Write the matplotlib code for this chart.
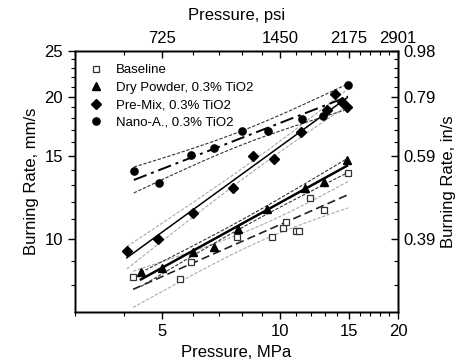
import numpy as np
import matplotlib
matplotlib.use("Agg")
import matplotlib.pyplot as plt
from matplotlib.ticker import FixedLocator, NullFormatter

plt.rcParams['font.family'] = ['Liberation Sans', 'DejaVu Sans']

# pressure in MPa, burning rate in mm/s
base_p = [4.22, 5.56, 5.93, 7.77, 9.54, 10.18, 10.36, 11.0, 11.15, 11.93, 12.95, 14.9]
base_r = [8.31, 8.23, 8.94, 10.1, 10.1, 10.55, 10.86, 10.4, 10.4, 12.2, 11.52, 13.8]

dry_p = [4.42, 5.0, 6.0, 6.78, 7.81, 9.27, 11.58, 12.95, 14.8]
dry_r = [8.51, 8.68, 9.39, 9.62, 10.5, 11.58, 12.83, 13.2, 14.7]

pre_p = [4.07, 4.89, 6.0, 7.59, 8.53, 9.65, 11.3, 13.2, 13.8, 14.4, 14.8]
pre_r = [9.43, 10.0, 11.35, 12.83, 15.0, 14.77, 16.86, 18.7, 20.3, 19.5, 19.05]

nano_p = [4.24, 4.91, 5.93, 6.78, 8.0, 9.32, 11.38, 12.87, 14.9]
nano_r = [13.9, 13.15, 15.05, 15.6, 16.9, 16.9, 17.9, 18.2, 21.2]

x_major = [5, 10, 15, 20]
psi_labels = ['725', '1450', '2175', '2901']
y_major = [10, 15, 20, 25]
ins_labels = ['0.39', '0.59', '0.79', '0.98']
x_minor = [3, 4, 6, 7, 8, 9, 11, 12, 13, 14, 16, 17, 18, 19]
y_minor = [8, 9, 11, 12, 13, 14, 16, 17, 18, 19, 21, 22, 23, 24]

t95 = {7: 2.365, 9: 2.262, 10: 2.228, 11: 2.201}


def power_fit(p, r):
    lx = np.log10(p)
    ly = np.log10(r)
    n = len(lx)
    b, a = np.polyfit(lx, ly, 1)
    resid = ly - (a + b * lx)
    s = np.sqrt(np.sum(resid ** 2) / (n - 2))
    sxx = np.sum((lx - lx.mean()) ** 2)
    xs = np.linspace(lx.min(), lx.max(), 60)
    fit = a + b * xs
    half = t95[n - 2] * s * np.sqrt(1.0 / n + (xs - lx.mean()) ** 2 / sxx)
    return 10 ** xs, 10 ** fit, 10 ** (fit - half), 10 ** (fit + half)


fig = plt.figure(figsize=(4.74, 3.63), dpi=100)
ax = fig.add_axes([0.158, 0.140, 0.682, 0.720])

series = [
    (base_p, base_r, dict(marker='s', mfc='white', mec='#333333', ms=4.5, mew=0.9),
     'Baseline', dict(color='#222222', ls=(0, (5, 2.5)), lw=1.2), '#aaaaaa'),
    (dry_p, dry_r, dict(marker='^', color='black', ms=5.5),
     'Dry Powder, 0.3% TiO2', dict(color='black', ls='-', lw=1.8), '#333333'),
    (pre_p, pre_r, dict(marker='D', color='black', ms=4.7),
     'Pre-Mix, 0.3% TiO2', dict(color='black', ls='-', lw=1.1), '#aaaaaa'),
    (nano_p, nano_r, dict(marker='o', color='black', ms=5.2),
     'Nano-A., 0.3% TiO2', dict(color='black', ls=(0, (7, 2.5, 1.5, 2.5)), lw=1.4), '#333333'),
]

for p, r, mk, lab, lstyle, bandc in series:
    xs, fit, lo, hi = power_fit(p, r)
    ax.plot(xs, lo, color=bandc, ls=(0, (3, 1.5)), lw=0.8)
    ax.plot(xs, hi, color=bandc, ls=(0, (3, 1.5)), lw=0.8)
    ax.plot(xs, fit, **lstyle)
    ax.plot(p, r, ls='none', label=lab, **mk)

ax.set_xscale('log')
ax.set_yscale('log')
ax.set_xlim(3, 20)
ax.set_ylim(7, 25)

ax.xaxis.set_major_locator(FixedLocator(x_major))
ax.xaxis.set_minor_locator(FixedLocator(x_minor))
ax.set_xticklabels([str(v) for v in x_major])
ax.xaxis.set_minor_formatter(NullFormatter())
ax.yaxis.set_major_locator(FixedLocator(y_major))
ax.yaxis.set_minor_locator(FixedLocator(y_minor))
ax.set_yticklabels([str(v) for v in y_major])
ax.yaxis.set_minor_formatter(NullFormatter())
ax.tick_params(which='major', direction='out', length=5, width=1, labelsize=12)
ax.tick_params(which='minor', direction='out', length=3, width=0.8)
ax.set_xlabel('Pressure, MPa', fontsize=12)
ax.set_ylabel('Burning Rate, mm/s', fontsize=12)

top = ax.twiny()
top.set_xscale('log')
top.set_xlim(ax.get_xlim())
top.xaxis.set_major_locator(FixedLocator(x_major))
top.xaxis.set_minor_locator(FixedLocator(x_minor))
top.set_xticklabels(psi_labels)
top.xaxis.set_minor_formatter(NullFormatter())
top.tick_params(which='major', direction='in', length=5, width=1, labelsize=12)
top.tick_params(which='minor', direction='in', length=3, width=0.8)
top.set_xlabel('Pressure, psi', fontsize=12, labelpad=8)

right = ax.twinx()
right.set_yscale('log')
right.set_ylim(ax.get_ylim())
right.yaxis.set_major_locator(FixedLocator(y_major))
right.yaxis.set_minor_locator(FixedLocator(y_minor))
right.set_yticklabels(ins_labels)
right.yaxis.set_minor_formatter(NullFormatter())
right.tick_params(which='major', direction='in', length=5, width=1, labelsize=12)
right.tick_params(which='minor', direction='in', length=3, width=0.8)
right.set_ylabel('Burning Rate, in/s', fontsize=12)

for a in (ax, top, right):
    for sp in a.spines.values():
        sp.set_linewidth(1.0)

ax.legend(loc='upper left', frameon=False, fontsize=9.5, handletextpad=0.9,
          labelspacing=0.4, borderaxespad=0.6, handlelength=1.2)

fig.savefig('out.png', dpi=100)
